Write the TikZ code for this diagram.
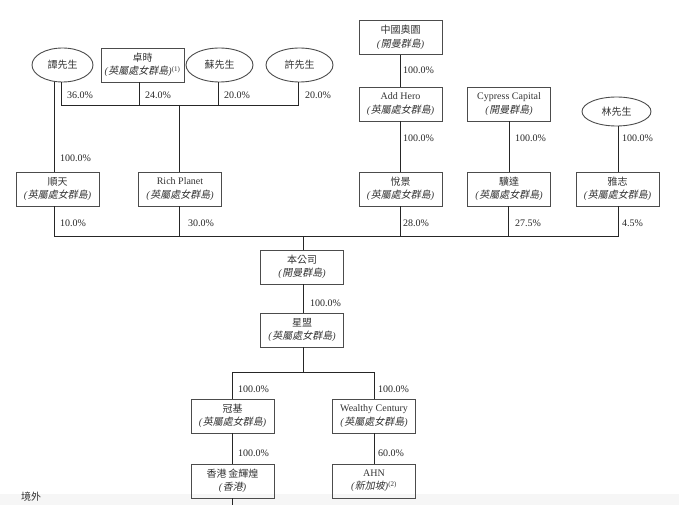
\documentclass[tikz,border=0pt]{standalone}
\usepackage{fontspec}
\usetikzlibrary{shapes.geometric}
\setmainfont{Liberation Serif}
\newfontfamily\cjk{Noto Sans CJK TC}
\newfontfamily\itcj[FakeSlant=0.2]{Noto Sans CJK TC}
\newcommand\jur[1]{\textit{(}{\itcj #1}\textit{)}}
\tikzset{
  ent/.style={draw=black!70, line width=0.9pt, minimum width=83pt, minimum height=34pt,
    inner sep=0pt, align=center, text=black!80, font=\fontsize{10}{13.5}\selectfont},
  per/.style={ellipse, draw=black!70, line width=0.9pt, minimum width=63pt, minimum height=34pt,
    inner sep=0pt, text=black!80, font=\fontsize{10}{13}\selectfont},
  link/.style={draw=black!85, line width=0.7pt},
  pct/.style={anchor=west, inner sep=0pt, text=black!85, font=\fontsize{10}{11}\selectfont},
}
\begin{document}
\begin{tikzpicture}[x=1pt,y=-1pt]
\useasboundingbox (0,0) rectangle (679,505);
\fill[gray!7] (0,494) rectangle (679,505);
% top row
\node[per, minimum width=61pt] (tan) at (62.5,65) {\cjk 譚先生};
\node[ent] (zhuoshi) at (142.5,65) {{\cjk 卓時}\\\jur{英屬處女群島}\textsuperscript{(1)}};
\node[per, minimum width=67pt] (su) at (219.5,65) {\cjk 蘇先生};
\node[per, minimum width=67pt] (xu) at (299.5,65) {\cjk 許先生};
\node[ent] (zhongguo) at (400.5,37.5) {{\cjk 中國奧園}\\\jur{開曼群島}};
\node[ent] (addhero) at (400.5,104) {Add Hero\\\jur{英屬處女群島}};
\node[ent] (cypress) at (509,104) {Cypress Capital\\\jur{開曼群島}};
\node[per, minimum width=69pt, minimum height=29pt] (lin) at (616.5,111.5) {\cjk 林先生};
% second row
\node[ent] (shuntian) at (57.5,189) {{\cjk 順天}\\\jur{英屬處女群島}};
\node[ent] (richplanet) at (180,189) {Rich Planet\\\jur{英屬處女群島}};
\node[ent] (yuejing) at (400.5,189) {{\cjk 悅景}\\\jur{英屬處女群島}};
\node[ent] (jida) at (509,189) {{\cjk 驥達}\\\jur{英屬處女群島}};
\node[ent] (yazhi) at (617.5,189) {{\cjk 雅志}\\\jur{英屬處女群島}};
% company chain
\node[ent] (company) at (302,267) {{\cjk 本公司}\\\jur{開曼群島}};
\node[ent] (xingmeng) at (302,330) {{\cjk 星盟}\\\jur{英屬處女群島}};
\node[ent] (guanji) at (232.5,416) {{\cjk 冠基}\\\jur{英屬處女群島}};
\node[ent] (wealthy) at (374,416) {Wealthy Century\\\jur{英屬處女群島}};
\node[ent] (hk) at (232.5,481) {{\cjk 香港\,金輝煌}\\\jur{香港}};
\node[ent] (ahn) at (374,481) {AHN\\\jur{新加坡}\textsuperscript{(2)}};
\node[anchor=west, inner sep=0pt, text=black!80, font=\fontsize{10}{12}\selectfont] (jingwai) at (21,497) {\cjk 境外};
% top bar
\coordinate (b1) at (179,105);
\draw[link] ([xshift=-1.5pt]tan.south) |- (b1);
\draw[link] ([xshift=-1.5pt]xu.south) |- (b1);
\draw[link] ([xshift=-3.5pt]zhuoshi.south) coordinate (z1) -- (z1 |- b1);
\draw[link] ([xshift=-1.5pt]su.south) coordinate (s1) -- (s1 |- b1);
\draw[link] (b1) -- (b1 |- richplanet.north);
\draw[link] ([xshift=-8.5pt]tan.south) coordinate (t1) -- (t1 |- shuntian.north);
% right column
\draw[link] (zhongguo) -- (addhero);
\draw[link] (addhero) -- (yuejing);
\draw[link] (cypress) -- (jida);
\draw[link] ([xshift=1.5pt]lin.south) coordinate (l1) -- (l1 |- yazhi.north);
% bottom bar into company
\coordinate (b2) at (303,236);
\draw[link] ([xshift=-3.5pt]shuntian.south) |- (b2);
\draw[link] ([xshift=0.5pt]yazhi.south) |- (b2);
\draw[link] ([xshift=-1pt]richplanet.south) coordinate (r1) -- (r1 |- b2);
\draw[link] (yuejing.south) -- (yuejing.south |- b2);
\draw[link] ([xshift=-1pt]jida.south) coordinate (j1) -- (j1 |- b2);
\draw[link] (b2) -- (b2 |- company.north);
\draw[link] ([xshift=1pt]company.south) coordinate (c1) -- (c1 |- xingmeng.north);
% lower tree
\coordinate (b3) at (303,372);
\draw[link] ([xshift=1pt]xingmeng.south) coordinate (x1) -- (b3);
\draw[link] (b3) -| (guanji.north);
\draw[link] (b3) -| (wealthy.north);
\draw[link] (guanji) -- (hk);
\draw[link] (wealthy) -- (ahn);
\draw[link] (hk.south) -- (hk.south |- 0,505);
% percentages
\node[pct] (p1) at (60,158) {100.0\%};
\node[pct] (p2) at (67,95) {36.0\%};
\node[pct] (p3) at (145,95) {24.0\%};
\node[pct] (p4) at (224,95) {20.0\%};
\node[pct] (p5) at (305,95) {20.0\%};
\node[pct] (p6) at (60,223) {10.0\%};
\node[pct] (p7) at (188,223) {30.0\%};
\node[pct] (p8) at (403,223) {28.0\%};
\node[pct] (p9) at (515,223) {27.5\%};
\node[pct] (p10) at (622,223) {4.5\%};
\node[pct] (p11) at (403,70) {100.0\%};
\node[pct] (p12) at (403,138) {100.0\%};
\node[pct] (p13) at (515,138) {100.0\%};
\node[pct] (p14) at (622,138) {100.0\%};
\node[pct] (p15) at (310,303) {100.0\%};
\node[pct] (p16) at (238,389) {100.0\%};
\node[pct] (p17) at (378,389) {100.0\%};
\node[pct] (p18) at (238,453) {100.0\%};
\node[pct] (p19) at (378,453) {60.0\%};
\end{tikzpicture}
\end{document}
